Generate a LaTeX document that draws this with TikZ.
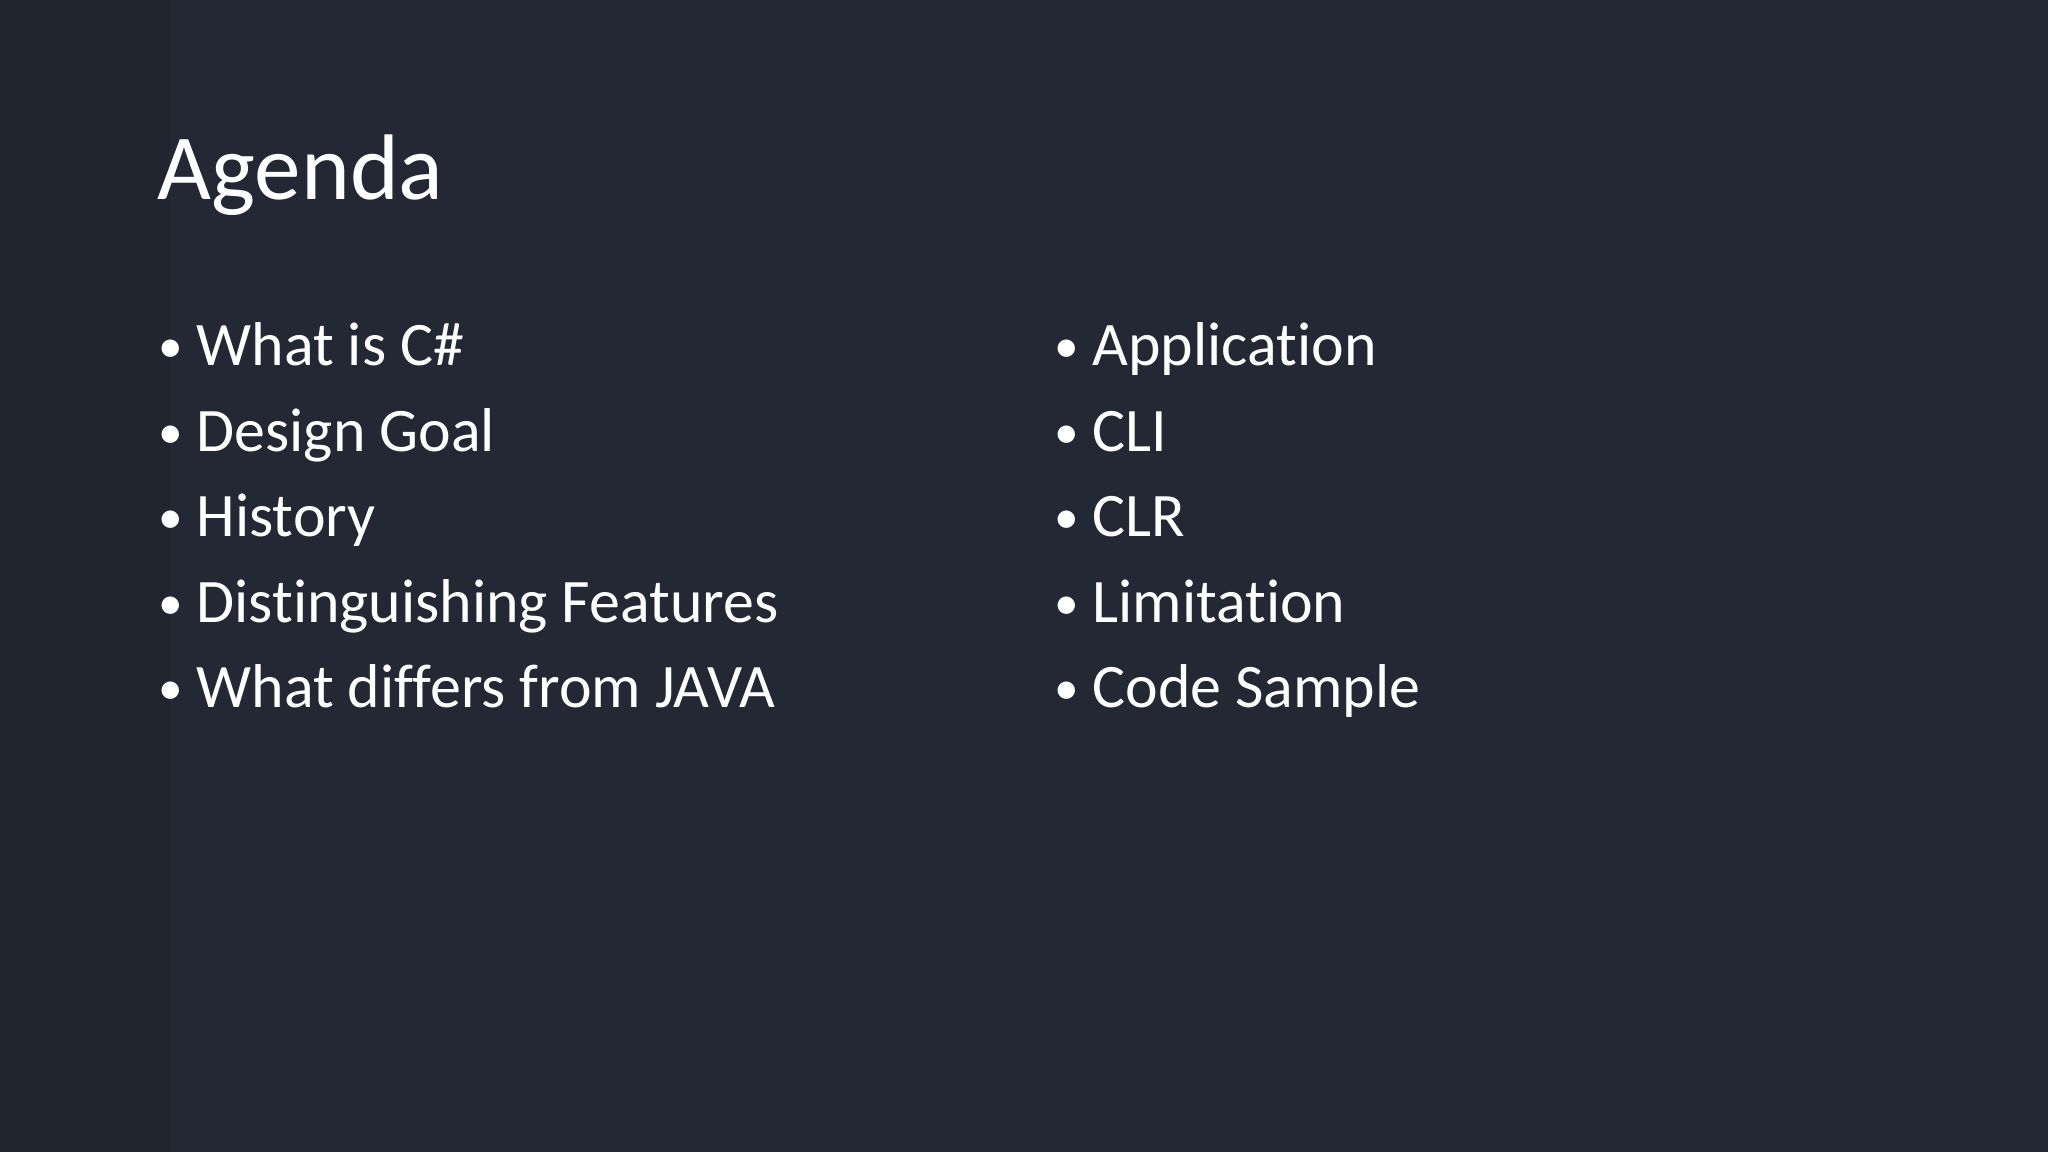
\documentclass[tikz,border=0pt]{standalone}
\usepackage{fontspec}
\setmainfont{Carlito}[Ligatures=NoCommon]
\definecolor{bg}{HTML}{242835}
\definecolor{bgl}{HTML}{212530}
\begin{document}
\begin{tikzpicture}[x=1cm,y=1cm,
  item/.style={anchor=base west,inner sep=0pt,text=white,font=\fontsize{17.6}{20}\selectfont},
  bul/.style={anchor=base west,inner sep=0pt,text=white,font=\fontsize{14}{20}\selectfont}]
\fill[bg] (0,0) rectangle (20.48,11.52);
\fill[bgl] (0,0) rectangle (1.7,11.52);
\useasboundingbox (0,0) rectangle (20.48,11.52);
\node[anchor=base west,inner sep=0pt,text=white,font=\fontsize{26.5}{30}\selectfont] (title) at (1.57,9.52) {Agenda};
\foreach \t [count=\i] in {What is C\#,Design Goal,History,Distinguishing Features,What differs from JAVA}{
  \pgfmathsetmacro{\yy}{11.52-3.66-0.855*(\i-1)}
  \node[bul] (lb\i) at (1.58,\yy+0.03) {•};
  \node[item] (l\i) at (1.96,\yy) {\t};
}
\foreach \t [count=\i] in {Application,CLI,CLR,Limitation,Code Sample}{
  \pgfmathsetmacro{\yy}{11.52-3.66-0.855*(\i-1)}
  \node[bul] (rb\i) at (10.54,\yy+0.03) {•};
  \node[item] (r\i) at (10.92,\yy) {\t};
}
\end{tikzpicture}
\end{document}
